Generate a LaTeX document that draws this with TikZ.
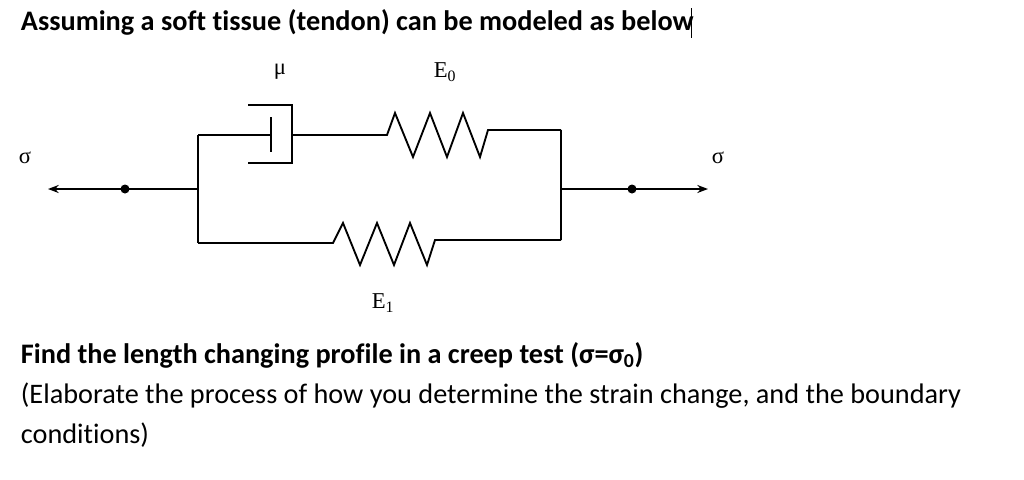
\documentclass[tikz,border=0pt]{standalone}
\usepackage{fontspec}
\setmainfont[Ligatures=NoCommon]{Carlito}
\newfontfamily\tms{Liberation Serif}
\usetikzlibrary{arrows.meta}
\begin{document}
\begin{tikzpicture}[x=0.75pt,y=-0.75pt,line width=1.4pt,
  sym/.style={font=\tms\fontsize{17}{19}\selectfont,inner sep=0},
  txt/.style={anchor=base west,inner sep=0,font=\fontsize{21.2}{24}\selectfont}]
\useasboundingbox (0,0) rectangle (1024,479);
\node[txt,font=\bfseries\fontsize{21.2}{24}\selectfont] (t1) at (20,30) {Assuming a soft tissue (tendon) can be modeled as below};
\draw[line width=0.6pt] (691,8) -- (691,38);
% circuit
\coordinate (L) at (198,189); \coordinate (R) at (561,189);
\fill (125,189) circle (4.5) coordinate (dl);
\fill (632,189) circle (4.5) coordinate (dr);
\draw[-{Stealth[length=8pt,width=6pt]}] (dl) -- (48,189);
\draw[-{Stealth[length=8pt,width=6pt]}] (dr) -- (708,189);
\draw (dl) -- (L); \draw (R) -- (dr);
\draw (198,135) -- (198,243);
\draw (561,130) -- (561,240);
% dashpot
\draw (198,135) -- (271,135);
\draw (271,117) -- (271,152);
\draw (248,105) -- (292,105) -- (292,163) -- (248,163);
\draw (292,135) -- (387,135) -- (395,113) -- (413,157) -- (430,113) -- (447,157) -- (463,113) -- (480,157) -- (488,130) -- (561,130);
% bottom spring
\draw (198,243) -- (333,243) -- (343,223) -- (360,265) -- (377,223) -- (394,265) -- (410,223) -- (427,265) -- (435,240) -- (561,240);
\node[sym] (mu) at (280,72) {μ};
\node[sym] (e0) at (445,72) {E\textsubscript{0}};
\node[sym] (e1) at (383,303) {E\textsubscript{1}};
\node[sym] (s1) at (25,158) {σ};
\node[sym] (s2) at (718,158) {σ};
\node[txt,font=\bfseries\fontsize{21.2}{24}\selectfont] (t2) at (20,363) {Find the length changing profile in a creep test (σ=σ\textsubscript{0})};
\node[txt] (t3) at (20,403) {(Elaborate the process of how you determine the strain change, and the boundary};
\node[txt] (t4) at (20,443) {conditions)};
\end{tikzpicture}
\end{document}
